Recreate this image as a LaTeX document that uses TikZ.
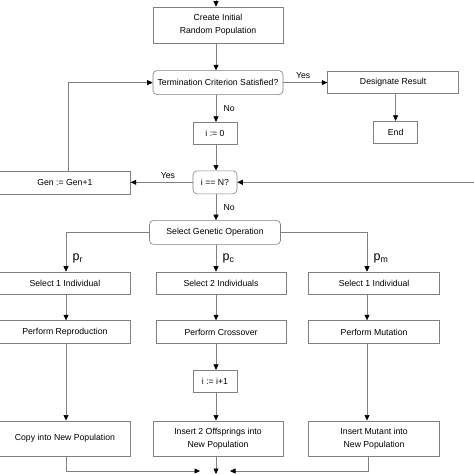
\documentclass[tikz,border=0pt]{standalone}
\usepackage{fontspec}
\setmainfont{Liberation Sans}
\usetikzlibrary{positioning,arrows.meta}

\begin{document}
\begin{tikzpicture}[x=1pt,y=-1pt,
        font=\fontsize{8.7}{13}\selectfont,
        box/.style={draw=black!50, line width=0.6pt, inner sep=1pt, align=center, minimum height=22pt},
        decision/.style={box, rounded corners=4pt},
        flow/.style={draw=black!50, line width=0.6pt, -{Triangle[length=5.5pt,width=5pt,black]}},
        plabel/.style={font=\fontsize{12.5}{13}\selectfont}]
    \useasboundingbox (0,0) rectangle (474,474);
    \coordinate (start) at (216,0);
    \coordinate (lft) at (66,0);
    \coordinate (mid) at (216,0);
    \coordinate (rgt) at (367,0);
    \coordinate (back) at (476,0);
    \coordinate (merge) at (216,471);

    \node[box, minimum width=130pt, minimum height=36pt] (init) at (218,25) {Create Initial\\Random Population};
    \node[decision, minimum width=130pt, minimum height=24pt, below=27pt of init] (term) {Termination Criterion Satisfied?};
    \node[box, minimum width=131pt, right=44pt of term] (result) {Designate Result};
    \node[box, minimum width=44pt, below=27pt of result, xshift=2.5pt] (end) {End};
    \node[box, minimum width=44pt, below=27pt of term, xshift=-3pt] (izero) {i := 0};
    \node[decision, minimum width=44pt, minimum height=23pt, below=26pt of izero] (test) {i == N?};
    \node[box, minimum width=131pt, minimum height=23pt, left=62pt of test] (gen) {Gen := Gen+1};
    \node[decision, minimum width=131pt, minimum height=24pt, below=26pt of test] (selop) {Select Genetic Operation};

    \node[box, minimum width=130pt, below=27pt of selop, xshift=6pt] (seltwo) {Select 2 Individuals};
    \node[box, minimum width=131pt, left=25pt of seltwo] (selonel) {Select 1 Individual};
    \node[box, minimum width=131pt, right=22pt of seltwo] (seloner) {Select 1 Individual};
    \node[box, minimum width=130pt, minimum height=23pt, below=26pt of seltwo] (cross) {Perform Crossover};
    \node[box, minimum width=131pt, minimum height=23pt, left=25pt of cross] (repro) {Perform Reproduction};
    \node[box, minimum width=131pt, minimum height=23pt, right=22pt of cross] (mutate) {Perform Mutation};
    \node[box, minimum width=44pt, below=26pt of cross, xshift=-6pt] (inc) {i := i+1};
    \node[box, minimum width=130pt, minimum height=35pt, below=28pt of inc, xshift=3pt] (offspring) {Insert 2 Offsprings into\\New Population};
    \node[box, minimum width=131pt, minimum height=35pt, left=22pt of offspring] (copy) {Copy into New Population};
    \node[box, minimum width=131pt, minimum height=35pt, right=25pt of offspring] (mutant) {Insert Mutant into\\New Population};

    % main loop
    \draw[flow] (start) -- (init.north -| start);
    \draw[flow] (init.south -| mid) -- (term.north -| mid);
    \draw[flow] (term.east) -- node[above, pos=0.45] {Yes} (term.east -| result.west);
    \draw[flow] (result.south -| end) -- (end.north);
    \draw[flow] (term.south -| mid) -- node[right=4pt] {No} (izero.north -| mid);
    \draw[flow] (izero.south -| mid) -- (test.north -| mid);
    \draw[flow] (test.west) -- node[above, pos=0.4] {Yes} (gen.east);
    \draw[flow] ([xshift=3pt]gen.north) |- (term.west);
    \draw[flow] (test.east -| back) -- (test.east);
    \draw[flow] (test.south -| mid) -- node[right=4pt] {No} (selop.north -| mid);

    % branches
    \draw[flow] (selop.west) -| node[plabel, right=3pt, pos=0.83] {p\textsubscript{r}} (selonel.north -| lft);
    \draw[flow] (selop.south -| mid) -- node[plabel, right=3pt] {p\textsubscript{c}} (seltwo.north -| mid);
    \draw[flow] (selop.east) -| node[plabel, right=3pt, pos=0.83] {p\textsubscript{m}} (seloner.north -| rgt);
    \draw[flow] (selonel.south -| lft) -- (repro.north -| lft);
    \draw[flow] (seltwo.south -| mid) -- (cross.north -| mid);
    \draw[flow] (seloner.south -| rgt) -- (mutate.north -| rgt);
    \draw[flow] (repro.south -| lft) -- (copy.north -| lft);
    \draw[flow] (cross.south -| mid) -- (inc.north -| mid);
    \draw[flow] (inc.south -| mid) -- (offspring.north -| mid);
    \draw[flow] (mutate.south -| rgt) -- (mutant.north -| rgt);

    % back to the test
    \draw[flow] (copy.south -| lft) |- ([xshift=-16pt]merge);
    \draw[flow] (offspring.south -| mid) -- ([yshift=-3pt]merge);
    \draw[flow] ([xshift=1pt]mutant.south -| rgt) |- ([xshift=14pt]merge);
\end{tikzpicture}
\end{document}
